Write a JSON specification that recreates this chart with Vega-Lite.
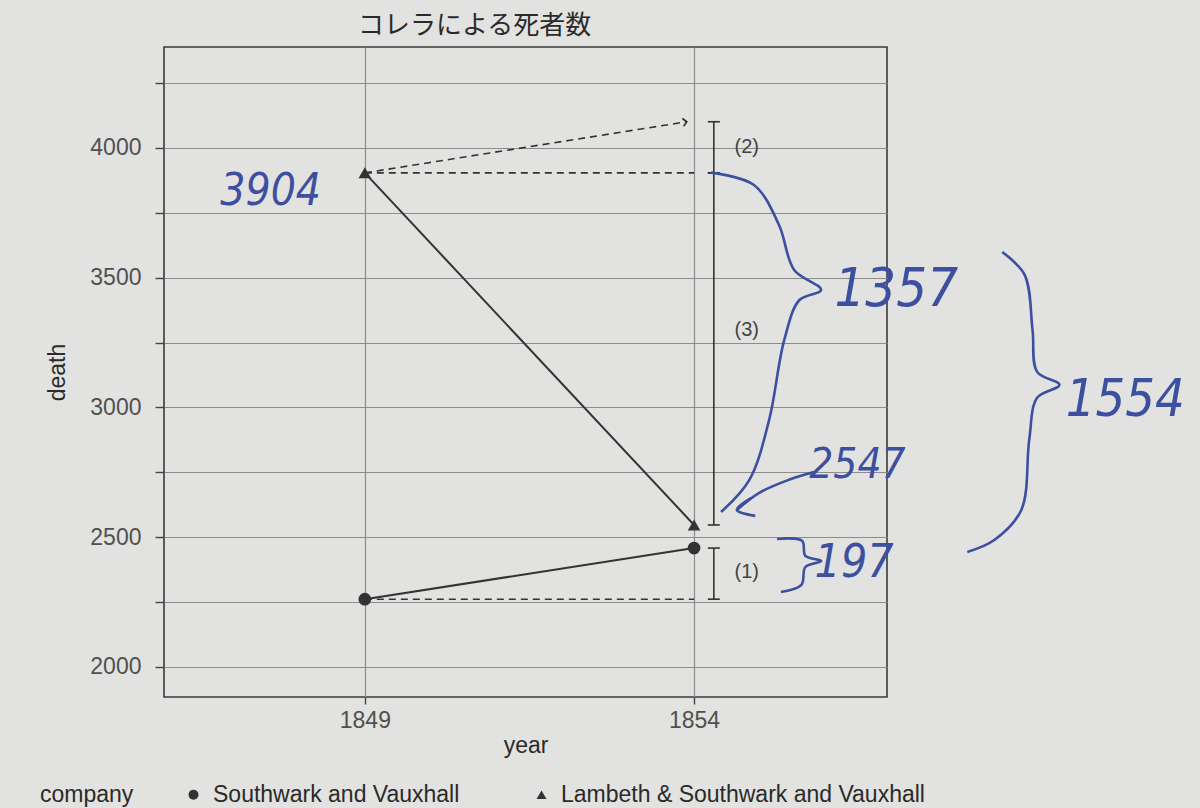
{
  "$schema": "https://vega.github.io/schema/vega-lite/v6.json",
  "autosize": {"type": "none"},
  "width": 723,
  "height": 650,
  "padding": {"left": 164, "top": 47, "right": 313, "bottom": 111},
  "background": "#e2e2e0",
  "title": {"text": "コレラによる死者数", "anchor": "start", "frame": "group", "dx": 194, "offset": 8, "font": "Noto Sans CJK JP", "fontSize": 26, "fontWeight": "normal", "color": "#2a2a2a"},
  "config": {
    "font": "Liberation Sans",
    "view": {"stroke": "#3a3a3a", "strokeWidth": 1.6},
    "axis": {"labelFontSize": 23, "labelColor": "#505050", "titleFontSize": 23, "titleFontWeight": "normal", "titleColor": "#2a2a2a", "tickColor": "#444", "tickWidth": 1.4, "tickSize": 9, "domain": false, "gridColor": "#8c8c8c", "gridWidth": 1.2, "gridOpacity": 1}
  },
  "datasets": {
    "deaths": [
      {"year": 1849, "death": 2261, "company": "Southwark and Vauxhall"},
      {"year": 1854, "death": 2458, "company": "Southwark and Vauxhall"},
      {"year": 1849, "death": 3904, "company": "Lambeth & Southwark and Vauxhall"},
      {"year": 1854, "death": 2547, "company": "Lambeth & Southwark and Vauxhall"}
    ],
    "guides": [
      {"seg": "a", "year": 1849, "death": 2261},
      {"seg": "a", "year": 1854, "death": 2261},
      {"seg": "b", "year": 1849, "death": 3904},
      {"seg": "b", "year": 1854, "death": 3904},
      {"seg": "c", "year": 1849, "death": 3904},
      {"seg": "c", "year": 1853.89, "death": 4101}
    ],
    "arrowhead": [{"year": 1853.89, "death": 4101}],
    "bars": [
      {"year": 1854.3, "death": 2261, "death_end": 2458},
      {"year": 1854.3, "death": 3904, "death_end": 4101},
      {"year": 1854.3, "death": 2547, "death_end": 3904}
    ],
    "bar_labels": [
      {"year": 1854.8, "death": 2365, "label": "(1)"},
      {"year": 1854.8, "death": 4002, "label": "(2)"},
      {"year": 1854.8, "death": 3300, "label": "(3)"}
    ],
    "hand_strokes": [
      {"stroke": "A", "order": 1, "year": 1854.26, "death": 3905},
      {"stroke": "A", "order": 2, "year": 1854.91, "death": 3857},
      {"stroke": "A", "order": 3, "year": 1855.29, "death": 3703},
      {"stroke": "A", "order": 4, "year": 1855.52, "death": 3530},
      {"stroke": "A", "order": 5, "year": 1855.93, "death": 3453},
      {"stroke": "A", "order": 6, "year": 1855.6, "death": 3414},
      {"stroke": "A", "order": 7, "year": 1855.37, "death": 3260},
      {"stroke": "A", "order": 8, "year": 1855.14, "death": 2952},
      {"stroke": "A", "order": 9, "year": 1854.84, "death": 2721},
      {"stroke": "A", "order": 10, "year": 1854.41, "death": 2597},
      {"stroke": "B", "order": 1, "year": 1855.26, "death": 2493},
      {"stroke": "B", "order": 2, "year": 1855.64, "death": 2486},
      {"stroke": "B", "order": 3, "year": 1855.69, "death": 2428},
      {"stroke": "B", "order": 4, "year": 1855.93, "death": 2408},
      {"stroke": "B", "order": 5, "year": 1855.69, "death": 2385},
      {"stroke": "B", "order": 6, "year": 1855.63, "death": 2316},
      {"stroke": "B", "order": 7, "year": 1855.32, "death": 2289},
      {"stroke": "C", "order": 1, "year": 1858.68, "death": 3599},
      {"stroke": "C", "order": 2, "year": 1859.02, "death": 3511},
      {"stroke": "C", "order": 3, "year": 1859.14, "death": 3299},
      {"stroke": "C", "order": 4, "year": 1859.21, "death": 3137},
      {"stroke": "C", "order": 5, "year": 1859.55, "death": 3087},
      {"stroke": "C", "order": 6, "year": 1859.21, "death": 3037},
      {"stroke": "C", "order": 7, "year": 1859.09, "death": 2875},
      {"stroke": "C", "order": 8, "year": 1858.97, "death": 2605},
      {"stroke": "C", "order": 9, "year": 1858.56, "death": 2489},
      {"stroke": "C", "order": 10, "year": 1858.15, "death": 2443},
      {"stroke": "D", "order": 1, "year": 1855.82, "death": 2751},
      {"stroke": "D", "order": 2, "year": 1855.44, "death": 2721},
      {"stroke": "D", "order": 3, "year": 1854.99, "death": 2671},
      {"stroke": "D", "order": 4, "year": 1854.65, "death": 2605},
      {"stroke": "E", "order": 1, "year": 1854.87, "death": 2651},
      {"stroke": "E", "order": 2, "year": 1854.65, "death": 2605},
      {"stroke": "E", "order": 3, "year": 1854.93, "death": 2582}
    ],
    "hand_notes": [
      {"year": 1847.57, "death": 3830, "note": "3904", "size": 44},
      {"year": 1857.07, "death": 3453, "note": "1357", "size": 54},
      {"year": 1856.48, "death": 2778, "note": "2547", "size": 42},
      {"year": 1856.43, "death": 2401, "note": "197", "size": 46},
      {"year": 1860.55, "death": 3029, "note": "1554", "size": 52}
    ]
  },
  "encoding": {
    "x": {"field": "year", "type": "quantitative",
      "scale": {"domain": [1845.95, 1856.93], "nice": false, "zero": false},
      "axis": {"title": "year", "values": [1849, 1854], "format": "d", "tickSize": 7, "labelPadding": 5, "titlePadding": 2}},
    "y": {"field": "death", "type": "quantitative",
      "scale": {"domain": [1884, 4389], "nice": false, "zero": false},
      "axis": {"title": "death", "values": [2000, 2250, 2500, 2750, 3000, 3250, 3500, 3750, 4000, 4250], "format": "d",
        "labelExpr": "datum.value % 500 === 0 ? datum.label : ''",
        "labelPadding": 14, "titlePadding": 20}}
  },
  "layer": [
    {"data": {"name": "guides"}, "mark": {"type": "line", "color": "#333", "strokeWidth": 1.6, "strokeDash": [7, 5]}, "encoding": {"detail": {"field": "seg"}}},
    {"data": {"name": "arrowhead"}, "mark": {"type": "point", "shape": "M-1,-1L0,0L-1,1", "filled": false, "stroke": "#333", "strokeWidth": 1.6, "size": 60, "angle": -9, "opacity": 1}},
    {"data": {"name": "deaths"}, "mark": {"type": "line", "color": "#333", "strokeWidth": 2}, "encoding": {"detail": {"field": "company"}}},
    {"data": {"name": "deaths"}, "mark": {"type": "point", "filled": true, "color": "#333", "size": 160, "opacity": 1},
      "encoding": {"shape": {"field": "company", "type": "nominal",
        "scale": {"domain": ["Southwark and Vauxhall", "Lambeth & Southwark and Vauxhall"], "range": ["circle", "triangle-up"]},
        "legend": {"orient": "none", "legendX": -124, "legendY": 736, "direction": "horizontal", "title": "company", "titleOrient": "left",
          "titleFontSize": 23, "titleFontWeight": "normal", "titleColor": "#2a2a2a", "titlePadding": 48, "labelFontSize": 23, "labelColor": "#2a2a2a", "labelLimit": 0,
          "symbolSize": 100, "symbolFillColor": "#333", "symbolStrokeColor": "#333", "columnPadding": 70, "labelOffset": 8}}}},
    {"data": {"name": "bars"}, "mark": {"type": "rule", "color": "#333", "strokeWidth": 1.6}, "encoding": {"y2": {"field": "death_end"}}},
    {"data": {"name": "bars"}, "mark": {"type": "tick", "orient": "horizontal", "color": "#333", "size": 12, "thickness": 1.6, "opacity": 1}},
    {"data": {"name": "bars"}, "mark": {"type": "tick", "orient": "horizontal", "color": "#333", "size": 12, "thickness": 1.6, "opacity": 1}, "encoding": {"y": {"field": "death_end", "type": "quantitative"}}},
    {"data": {"name": "bar_labels"}, "mark": {"type": "text", "fontSize": 20, "color": "#444", "align": "center", "baseline": "middle"}, "encoding": {"text": {"field": "label"}}},
    {"data": {"name": "hand_strokes"}, "mark": {"type": "line", "color": "#3d4f9f", "strokeWidth": 2.6, "interpolate": "catmull-rom"}, "encoding": {"detail": {"field": "stroke"}, "order": {"field": "order", "type": "quantitative"}}},
    {"data": {"name": "hand_notes"}, "mark": {"type": "text", "color": "#3d4f9f", "font": "DejaVu Sans Condensed, DejaVu Sans", "fontStyle": "italic", "align": "center", "baseline": "middle"}, "encoding": {"text": {"field": "note"}, "size": {"field": "size", "type": "quantitative", "scale": null}}}
  ]
}
